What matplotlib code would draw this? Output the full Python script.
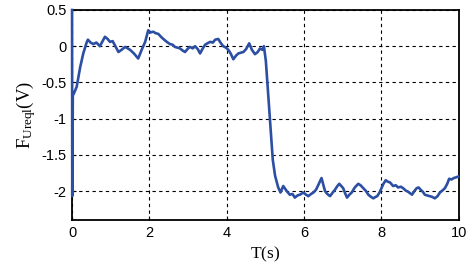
import numpy as np
import matplotlib.pyplot as plt

# 控制量曲线
t = [0.0, 0.005, 0.02, 0.05, 0.12, 0.21, 0.29, 0.38, 0.41, 0.48, 0.55, 0.63, 0.72, 0.78,
     0.85, 0.92, 0.98, 1.05, 1.12, 1.2, 1.28, 1.37, 1.44, 1.5, 1.6, 1.71, 1.8, 1.89, 1.97,
     2.03, 2.1, 2.16, 2.23, 2.3, 2.36, 2.45, 2.53, 2.6, 2.66, 2.79, 2.86, 2.92, 3.0, 3.05,
     3.12, 3.18, 3.25, 3.31, 3.38, 3.44, 3.5, 3.57, 3.64, 3.7, 3.78, 3.85, 3.91, 3.98, 4.04,
     4.1, 4.17, 4.24, 4.3, 4.36, 4.43, 4.5, 4.58, 4.65, 4.73, 4.8, 4.86, 4.92, 4.96, 5.01,
     5.07, 5.13, 5.19, 5.25, 5.33, 5.39, 5.46, 5.55, 5.63, 5.7, 5.76, 5.83, 5.89, 5.98, 6.05,
     6.11, 6.18, 6.24, 6.31, 6.37, 6.45, 6.5, 6.54, 6.6, 6.67, 6.74, 6.8, 6.86, 6.91, 6.96,
     7.01, 7.06, 7.11, 7.17, 7.23, 7.31, 7.4, 7.46, 7.53, 7.6, 7.66, 7.73, 7.79, 7.85, 7.89,
     7.95, 8.0, 8.05, 8.11, 8.16, 8.22, 8.3, 8.37, 8.43, 8.5, 8.56, 8.62, 8.69, 8.74, 8.79,
     8.85, 8.91, 8.96, 9.01, 9.07, 9.12, 9.18, 9.25, 9.31, 9.38, 9.45, 9.51, 9.58, 9.64,
     9.7, 9.75, 9.81, 9.87, 9.93, 9.98]
u = [0.5, -2.07, -0.68, -0.65, -0.56, -0.29, -0.10, 0.055, 0.09, 0.05, 0.03, 0.05, 0.0, 0.06,
     0.13, 0.10, 0.06, 0.07, 0.0, -0.08, -0.05, -0.01, -0.03, -0.05, -0.1, -0.17, -0.05, 0.06, 0.22,
     0.19, 0.20, 0.18, 0.17, 0.13, 0.10, 0.06, 0.03, 0.02, -0.01, -0.03, -0.06, -0.08, -0.03, -0.01,
     -0.03, 0.0, -0.04, -0.1, -0.03, 0.02, 0.04, 0.06, 0.05, 0.09, 0.10, 0.04, 0.0, -0.02, -0.05,
     -0.1, -0.18, -0.13, -0.10, -0.09, -0.08, -0.04, 0.04, -0.05, -0.11, -0.08, -0.03, -0.05, 0.0, -0.2,
     -0.65, -1.11, -1.57, -1.79, -1.95, -2.02, -1.93, -2.0, -2.05, -2.04, -2.09, -2.06, -2.05, -2.02, -2.05,
     -2.07, -2.04, -2.02, -1.98, -1.91, -1.82, -1.92, -2.0, -2.04, -2.07, -2.02, -1.98, -1.93, -1.90, -1.93,
     -1.96, -2.03, -2.09, -2.05, -2.02, -1.95, -1.90, -1.92, -1.96, -2.0, -2.05, -2.08, -2.1, -2.08, -2.07,
     -2.02, -1.96, -1.9, -1.85, -1.87, -1.88, -1.93, -1.92, -1.95, -1.94, -1.96, -1.99, -2.01, -2.03, -2.05,
     -2.0, -1.96, -1.95, -1.98, -2.01, -2.05, -2.06, -2.07, -2.08, -2.1, -2.07, -2.02, -1.99, -1.96,
     -1.9, -1.83, -1.84, -1.82, -1.81, -1.80]

xticks = [0, 2, 4, 6, 8, 10]
yticks = [0.5, 0, -0.5, -1, -1.5, -2]
ytick_labels = ['0.5', '0', '-0.5', '-1', '-1.5', '-2']

plt.rcParams['font.family'] = ['Liberation Sans', 'DejaVu Sans']

fig = plt.figure(figsize=(4.74, 2.70), dpi=100)
ax = fig.add_axes([0.152, 0.185, 0.816, 0.778])
ax.plot(t, u, color='#2c4ea3', linewidth=1.9, clip_on=False, zorder=5)

ax.set_xlim(0, 10)
ax.set_ylim(-2.4, 0.5)
ax.set_xticks(xticks)
ax.set_yticks(yticks)
ax.set_yticklabels(ytick_labels)
ax.tick_params(direction='in', length=3, labelsize=10.5, pad=4)
ax.grid(True, color='black', linestyle=(0, (3, 3)), linewidth=0.8)
for s in ax.spines.values():
    s.set_linewidth(1.3)

ax.set_xlabel(r'$\mathregular{T(s)}$', fontsize=12.5, labelpad=4,
              fontfamily='Liberation Serif')
ax.set_ylabel(r'$\mathregular{F_{Ureql}(V)}$', fontsize=13.5, labelpad=2,
              fontfamily='Liberation Serif')

fig.savefig('out.png', dpi=100)
